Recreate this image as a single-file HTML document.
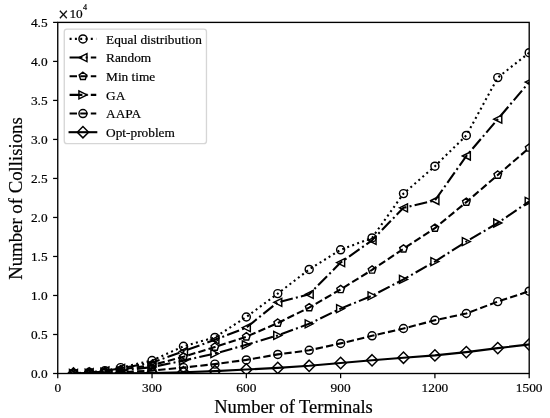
<!DOCTYPE html>
<html><head><meta charset="utf-8"><title>Number of Collisions</title>
<style>html,body{margin:0;padding:0;background:#fff;}svg{display:block;}text{font-family:"Liberation Serif",serif;fill:#000;stroke:#000;stroke-width:0.2px;}</style></head><body>
<svg width="550" height="418" viewBox="0 0 550 418">
<rect width="550" height="418" fill="#fff"/>
<defs><clipPath id="ax"><rect x="57.75" y="22.4" width="471.45000000000005" height="351.1"/></clipPath></defs>
<g stroke="#000" stroke-width="1.25" fill="none">
<line x1="57.75" y1="373.5" x2="57.75" y2="378.17"/>
<line x1="152.04" y1="373.5" x2="152.04" y2="378.17"/>
<line x1="246.33" y1="373.5" x2="246.33" y2="378.17"/>
<line x1="340.62" y1="373.5" x2="340.62" y2="378.17"/>
<line x1="434.91" y1="373.5" x2="434.91" y2="378.17"/>
<line x1="529.20" y1="373.5" x2="529.20" y2="378.17"/>
<line x1="57.75" y1="373.50" x2="53.08" y2="373.50"/>
<line x1="57.75" y1="334.49" x2="53.08" y2="334.49"/>
<line x1="57.75" y1="295.48" x2="53.08" y2="295.48"/>
<line x1="57.75" y1="256.47" x2="53.08" y2="256.47"/>
<line x1="57.75" y1="217.46" x2="53.08" y2="217.46"/>
<line x1="57.75" y1="178.44" x2="53.08" y2="178.44"/>
<line x1="57.75" y1="139.43" x2="53.08" y2="139.43"/>
<line x1="57.75" y1="100.42" x2="53.08" y2="100.42"/>
<line x1="57.75" y1="61.41" x2="53.08" y2="61.41"/>
<line x1="57.75" y1="22.40" x2="53.08" y2="22.40"/>
</g>
<g font-size="13.33">
<text x="57.75" y="392.2" text-anchor="middle">0</text>
<text x="152.04" y="392.2" text-anchor="middle">300</text>
<text x="246.33" y="392.2" text-anchor="middle">600</text>
<text x="340.62" y="392.2" text-anchor="middle">900</text>
<text x="434.91" y="392.2" text-anchor="middle">1200</text>
<text x="529.20" y="392.2" text-anchor="middle">1500</text>
<text x="47.6" y="378.10" text-anchor="end">0.0</text>
<text x="47.6" y="339.09" text-anchor="end">0.5</text>
<text x="47.6" y="300.08" text-anchor="end">1.0</text>
<text x="47.6" y="261.07" text-anchor="end">1.5</text>
<text x="47.6" y="222.06" text-anchor="end">2.0</text>
<text x="47.6" y="183.04" text-anchor="end">2.5</text>
<text x="47.6" y="144.03" text-anchor="end">3.0</text>
<text x="47.6" y="105.02" text-anchor="end">3.5</text>
<text x="47.6" y="66.01" text-anchor="end">4.0</text>
<text x="47.6" y="27.00" text-anchor="end">4.5</text>
<text x="57.75" y="18.2"><tspan font-family="DejaVu Sans, sans-serif" dy="0.5">×</tspan><tspan dy="-0.5" dx="0.5">10</tspan><tspan font-size="8.2" dy="-8.1" dx="0.2">4</tspan></text>
</g>
<g clip-path="url(#ax)" fill="none" stroke="#000">
<polyline points="73.47,373.45 89.18,372.30 104.90,370.70 120.61,367.60 152.04,360.50 183.47,346.30 214.90,337.40 246.33,317.00 277.76,293.60 309.19,269.40 340.62,249.80 372.05,237.90 403.48,193.60 434.91,166.20 466.34,135.40 497.77,77.60 529.20,52.70" stroke-width="2.1" stroke-linejoin="round" stroke-dasharray="2 3.3"/>
<g stroke-width="1.45" stroke-linejoin="miter">
<circle cx="73.47" cy="373.45" r="4.0"/>
<circle cx="89.18" cy="372.30" r="4.0"/>
<circle cx="104.90" cy="370.70" r="4.0"/>
<circle cx="120.61" cy="367.60" r="4.0"/>
<circle cx="152.04" cy="360.50" r="4.0"/>
<circle cx="183.47" cy="346.30" r="4.0"/>
<circle cx="214.90" cy="337.40" r="4.0"/>
<circle cx="246.33" cy="317.00" r="4.0"/>
<circle cx="277.76" cy="293.60" r="4.0"/>
<circle cx="309.19" cy="269.40" r="4.0"/>
<circle cx="340.62" cy="249.80" r="4.0"/>
<circle cx="372.05" cy="237.90" r="4.0"/>
<circle cx="403.48" cy="193.60" r="4.0"/>
<circle cx="434.91" cy="166.20" r="4.0"/>
<circle cx="466.34" cy="135.40" r="4.0"/>
<circle cx="497.77" cy="77.60" r="4.0"/>
<circle cx="529.20" cy="52.70" r="4.0"/>
</g>
<polyline points="73.47,373.45 89.18,372.60 104.90,370.80 120.61,368.30 152.04,362.60 183.47,351.30 214.90,339.80 246.33,327.60 277.76,302.30 309.19,294.30 340.62,262.60 372.05,240.30 403.48,207.80 434.91,200.50 466.34,156.00 497.77,119.20 529.20,82.10" stroke-width="2.1" stroke-linejoin="round" stroke-dasharray="12.8 3.2 2 3.2" stroke-dashoffset="10.2"/>
<g stroke-width="1.45" stroke-linejoin="miter">
<polygon points="69.47,373.45 77.47,369.45 77.47,377.45"/>
<polygon points="85.18,372.60 93.18,368.60 93.18,376.60"/>
<polygon points="100.90,370.80 108.90,366.80 108.90,374.80"/>
<polygon points="116.61,368.30 124.61,364.30 124.61,372.30"/>
<polygon points="148.04,362.60 156.04,358.60 156.04,366.60"/>
<polygon points="179.47,351.30 187.47,347.30 187.47,355.30"/>
<polygon points="210.90,339.80 218.90,335.80 218.90,343.80"/>
<polygon points="242.33,327.60 250.33,323.60 250.33,331.60"/>
<polygon points="273.76,302.30 281.76,298.30 281.76,306.30"/>
<polygon points="305.19,294.30 313.19,290.30 313.19,298.30"/>
<polygon points="336.62,262.60 344.62,258.60 344.62,266.60"/>
<polygon points="368.05,240.30 376.05,236.30 376.05,244.30"/>
<polygon points="399.48,207.80 407.48,203.80 407.48,211.80"/>
<polygon points="430.91,200.50 438.91,196.50 438.91,204.50"/>
<polygon points="462.34,156.00 470.34,152.00 470.34,160.00"/>
<polygon points="493.77,119.20 501.77,115.20 501.77,123.20"/>
<polygon points="525.20,82.10 533.20,78.10 533.20,86.10"/>
</g>
<polyline points="73.47,373.45 89.18,372.90 104.90,371.50 120.61,369.60 152.04,365.10 183.47,356.80 214.90,347.00 246.33,336.70 277.76,323.00 309.19,307.60 340.62,289.40 372.05,269.90 403.48,248.80 434.91,228.10 466.34,202.10 497.77,175.00 529.20,147.90" stroke-width="2.1" stroke-linejoin="round" stroke-dasharray="7.4 3.2"/>
<g stroke-width="1.45" stroke-linejoin="miter">
<polygon points="73.47,369.45 77.27,372.21 75.82,376.69 71.11,376.69 69.66,372.21"/>
<polygon points="89.18,368.90 92.98,371.66 91.53,376.14 86.83,376.14 85.38,371.66"/>
<polygon points="104.90,367.50 108.70,370.26 107.25,374.74 102.54,374.74 101.09,370.26"/>
<polygon points="120.61,365.60 124.41,368.36 122.96,372.84 118.26,372.84 116.81,368.36"/>
<polygon points="152.04,361.10 155.84,363.86 154.39,368.34 149.69,368.34 148.24,363.86"/>
<polygon points="183.47,352.80 187.27,355.56 185.82,360.04 181.12,360.04 179.67,355.56"/>
<polygon points="214.90,343.00 218.70,345.76 217.25,350.24 212.55,350.24 211.10,345.76"/>
<polygon points="246.33,332.70 250.13,335.46 248.68,339.94 243.98,339.94 242.53,335.46"/>
<polygon points="277.76,319.00 281.56,321.76 280.11,326.24 275.41,326.24 273.96,321.76"/>
<polygon points="309.19,303.60 312.99,306.36 311.54,310.84 306.84,310.84 305.39,306.36"/>
<polygon points="340.62,285.40 344.42,288.16 342.97,292.64 338.27,292.64 336.82,288.16"/>
<polygon points="372.05,265.90 375.85,268.66 374.40,273.14 369.70,273.14 368.25,268.66"/>
<polygon points="403.48,244.80 407.28,247.56 405.83,252.04 401.13,252.04 399.68,247.56"/>
<polygon points="434.91,224.10 438.71,226.86 437.26,231.34 432.56,231.34 431.11,226.86"/>
<polygon points="466.34,198.10 470.14,200.86 468.69,205.34 463.99,205.34 462.54,200.86"/>
<polygon points="497.77,171.00 501.57,173.76 500.12,178.24 495.42,178.24 493.97,173.76"/>
<polygon points="529.20,143.90 533.00,146.66 531.55,151.14 526.85,151.14 525.40,146.66"/>
</g>
<polyline points="73.47,373.45 89.18,373.10 104.90,372.10 120.61,370.70 152.04,367.10 183.47,360.60 214.90,353.60 246.33,344.80 277.76,335.40 309.19,323.80 340.62,308.60 372.05,295.80 403.48,279.40 434.91,261.60 466.34,241.60 497.77,223.00 529.20,201.40" stroke-width="2.1" stroke-linejoin="round" stroke-dasharray="12.8 3.2 2 3.2"/>
<g stroke-width="1.45" stroke-linejoin="miter">
<polygon points="77.47,373.45 69.47,369.45 69.47,377.45"/>
<polygon points="93.18,373.10 85.18,369.10 85.18,377.10"/>
<polygon points="108.90,372.10 100.90,368.10 100.90,376.10"/>
<polygon points="124.61,370.70 116.61,366.70 116.61,374.70"/>
<polygon points="156.04,367.10 148.04,363.10 148.04,371.10"/>
<polygon points="187.47,360.60 179.47,356.60 179.47,364.60"/>
<polygon points="218.90,353.60 210.90,349.60 210.90,357.60"/>
<polygon points="250.33,344.80 242.33,340.80 242.33,348.80"/>
<polygon points="281.76,335.40 273.76,331.40 273.76,339.40"/>
<polygon points="313.19,323.80 305.19,319.80 305.19,327.80"/>
<polygon points="344.62,308.60 336.62,304.60 336.62,312.60"/>
<polygon points="376.05,295.80 368.05,291.80 368.05,299.80"/>
<polygon points="407.48,279.40 399.48,275.40 399.48,283.40"/>
<polygon points="438.91,261.60 430.91,257.60 430.91,265.60"/>
<polygon points="470.34,241.60 462.34,237.60 462.34,245.60"/>
<polygon points="501.77,223.00 493.77,219.00 493.77,227.00"/>
<polygon points="533.20,201.40 525.20,197.40 525.20,205.40"/>
</g>
<polyline points="73.47,373.45 89.18,373.45 104.90,373.00 120.61,372.30 152.04,370.60 183.47,367.60 214.90,364.10 246.33,359.90 277.76,354.40 309.19,350.30 340.62,343.40 372.05,335.80 403.48,328.50 434.91,320.30 466.34,313.50 497.77,301.60 529.20,291.20" stroke-width="2.1" stroke-linejoin="round" stroke-dasharray="7.4 3.2"/>
<g stroke-width="1.45" stroke-linejoin="miter">
<circle cx="73.47" cy="373.45" r="4.0"/>
<circle cx="89.18" cy="373.45" r="4.0"/>
<circle cx="104.90" cy="373.00" r="4.0"/>
<circle cx="120.61" cy="372.30" r="4.0"/>
<circle cx="152.04" cy="370.60" r="4.0"/>
<circle cx="183.47" cy="367.60" r="4.0"/>
<circle cx="214.90" cy="364.10" r="4.0"/>
<circle cx="246.33" cy="359.90" r="4.0"/>
<circle cx="277.76" cy="354.40" r="4.0"/>
<circle cx="309.19" cy="350.30" r="4.0"/>
<circle cx="340.62" cy="343.40" r="4.0"/>
<circle cx="372.05" cy="335.80" r="4.0"/>
<circle cx="403.48" cy="328.50" r="4.0"/>
<circle cx="434.91" cy="320.30" r="4.0"/>
<circle cx="466.34" cy="313.50" r="4.0"/>
<circle cx="497.77" cy="301.60" r="4.0"/>
<circle cx="529.20" cy="291.20" r="4.0"/>
</g>
<polyline points="73.47,373.45 89.18,373.45 104.90,373.45 120.61,373.40 152.04,373.00 183.47,372.30 214.90,371.10 246.33,369.50 277.76,367.90 309.19,365.80 340.62,363.00 372.05,360.30 403.48,357.70 434.91,355.40 466.34,352.10 497.77,348.10 529.20,344.50" stroke-width="2.1" stroke-linejoin="round" stroke-linecap="square"/>
<g stroke-width="1.45" stroke-linejoin="miter">
<polygon points="73.47,367.79 79.12,373.45 73.47,379.11 67.81,373.45"/>
<polygon points="89.18,367.79 94.84,373.45 89.18,379.11 83.52,373.45"/>
<polygon points="104.90,367.79 110.55,373.45 104.90,379.11 99.24,373.45"/>
<polygon points="120.61,367.74 126.27,373.40 120.61,379.06 114.95,373.40"/>
<polygon points="152.04,367.34 157.70,373.00 152.04,378.66 146.38,373.00"/>
<polygon points="183.47,366.64 189.13,372.30 183.47,377.96 177.81,372.30"/>
<polygon points="214.90,365.44 220.56,371.10 214.90,376.76 209.24,371.10"/>
<polygon points="246.33,363.84 251.99,369.50 246.33,375.16 240.67,369.50"/>
<polygon points="277.76,362.24 283.42,367.90 277.76,373.56 272.10,367.90"/>
<polygon points="309.19,360.14 314.85,365.80 309.19,371.46 303.53,365.80"/>
<polygon points="340.62,357.34 346.28,363.00 340.62,368.66 334.96,363.00"/>
<polygon points="372.05,354.64 377.71,360.30 372.05,365.96 366.39,360.30"/>
<polygon points="403.48,352.04 409.14,357.70 403.48,363.36 397.82,357.70"/>
<polygon points="434.91,349.74 440.57,355.40 434.91,361.06 429.25,355.40"/>
<polygon points="466.34,346.44 472.00,352.10 466.34,357.76 460.68,352.10"/>
<polygon points="497.77,342.44 503.43,348.10 497.77,353.76 492.11,348.10"/>
<polygon points="529.20,338.84 534.86,344.50 529.20,350.16 523.54,344.50"/>
</g>
</g>
<rect x="57.75" y="22.4" width="471.45000000000005" height="351.1" fill="none" stroke="#000" stroke-width="1.35"/>
<rect x="64.27" y="29.07" width="142.2" height="114.5" rx="2.67" ry="2.67" fill="#fff" fill-opacity="0.8" stroke="#ccc" stroke-opacity="0.8" stroke-width="1.33"/>
<g fill="none" stroke="#000">
<line x1="69.60" y1="38.90" x2="96.27" y2="38.90" stroke-width="2.1" stroke-dasharray="2 3.3"/>
<g stroke-width="1.45"><circle cx="82.94" cy="38.90" r="4.0"/></g>
<line x1="69.60" y1="57.56" x2="96.27" y2="57.56" stroke-width="2.1" stroke-dasharray="12.8 3.2 2 3.2"/>
<g stroke-width="1.45"><polygon points="78.94,57.56 86.94,53.56 86.94,61.56"/></g>
<line x1="69.60" y1="76.22" x2="96.27" y2="76.22" stroke-width="2.1" stroke-dasharray="7.4 3.2"/>
<g stroke-width="1.45"><polygon points="82.94,72.22 86.74,74.98 85.29,79.46 80.58,79.46 79.13,74.98"/></g>
<line x1="69.60" y1="94.88" x2="96.27" y2="94.88" stroke-width="2.1" stroke-dasharray="12.8 3.2 2 3.2"/>
<g stroke-width="1.45"><polygon points="86.94,94.88 78.94,90.88 78.94,98.88"/></g>
<line x1="69.60" y1="113.54" x2="96.27" y2="113.54" stroke-width="2.1" stroke-dasharray="7.4 3.2"/>
<g stroke-width="1.45"><circle cx="82.94" cy="113.54" r="4.0"/></g>
<line x1="69.60" y1="132.20" x2="96.27" y2="132.20" stroke-width="2.1" stroke-linecap="square"/>
<g stroke-width="1.45"><polygon points="82.94,126.54 88.59,132.20 82.94,137.86 77.28,132.20"/></g>
</g>
<g font-size="13.33">
<text x="106.04" y="43.60">Equal distribution</text>
<text x="106.04" y="62.26">Random</text>
<text x="106.04" y="80.92">Min time</text>
<text x="106.04" y="99.58">GA</text>
<text x="106.04" y="118.24">AAPA</text>
<text x="106.04" y="136.90">Opt-problem</text>
</g>
<text x="293.48" y="413.3" font-size="18.5" text-anchor="middle">Number of Terminals</text>
<text transform="translate(21.6,198.55) rotate(-90)" font-size="18.75" text-anchor="middle">Number of Collisions</text>
</svg></body></html>
